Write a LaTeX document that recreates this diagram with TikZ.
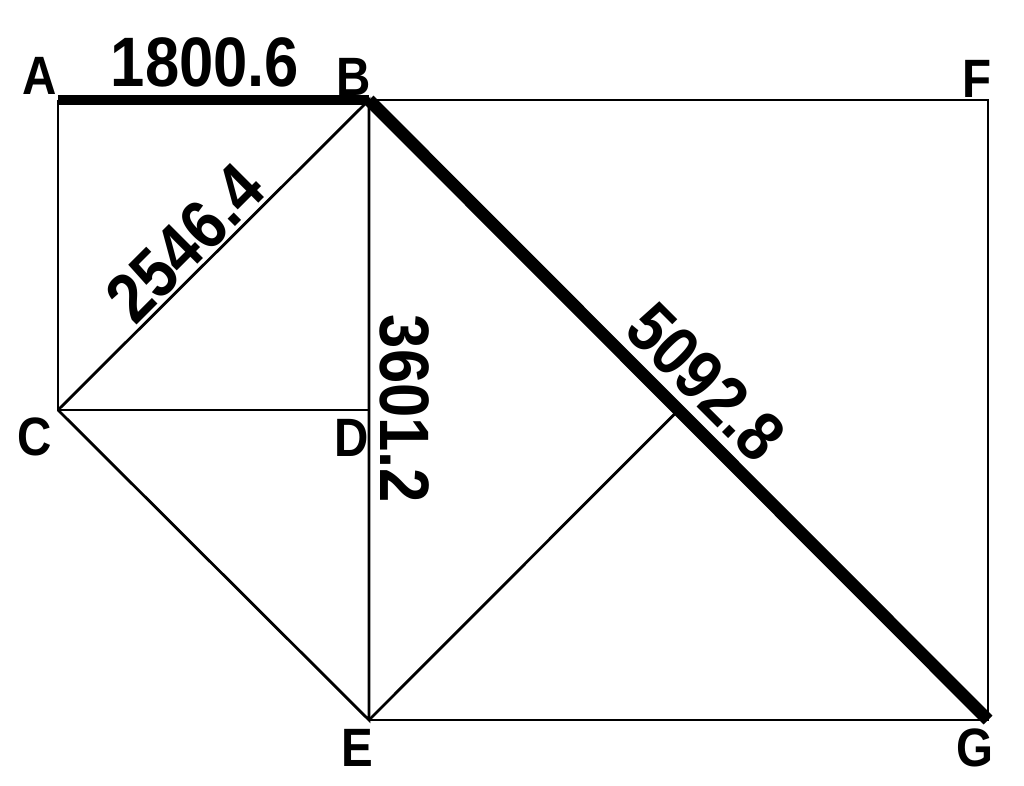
\documentclass[tikz,border=0pt]{standalone}
\usepackage{fontspec}
\usetikzlibrary{calc}
\newfontfamily\lblfont[FakeStretch=0.88]{Liberation Sans}
\begin{document}
\begin{tikzpicture}[x=1pt,y=-1pt,
  thin line/.style={line width=2.8pt},
  heavy/.style={line width=10pt},
  heavier/.style={line width=12.5pt},
  pt/.style={font=\lblfont\bfseries\fontsize{54}{54}\selectfont, inner sep=0pt},
  num/.style={font=\lblfont\bfseries\fontsize{70}{70}\selectfont, inner sep=0pt}]
\useasboundingbox (0,0) rectangle (1024,785);
\fill[white] (0,0) rectangle (1024,785);
\coordinate (A) at (58,100);
\coordinate (B) at (369,100);
\coordinate (F) at (988,100);
\coordinate (C) at (58,410);
\coordinate (D) at (369,410);
\coordinate (E) at (369,720);
\coordinate (G) at (988,720);
\coordinate (M) at ($(B)!0.5!(G)$);
% thin lines
\draw[thin line] (B) -- (F) -- (G) -- (E);
\draw[thin line] (A) -- (C) -- (D);
\draw[thin line] (C) -- (B) -- (E) -- (C);
\draw[thin line] (E) -- (M);
% thick lines
\draw[heavy] (A) -- (B);
\draw[heavier] (B) -- (G);
% point labels
\node[pt] (lA) at (40,76) {A};
\node[pt] (lB) at (354,77) {B};
\node[pt] (lF) at (977,79) {F};
\node[pt] (lC) at (35,437) {C};
\node[pt] (lD) at (352,438) {D};
\node[pt] (lE) at (357,748) {E};
\node[pt] (lG) at (975,748) {G};
% length labels
\node[num] (nAB) at (205,62) {1800.6};
\node[num, rotate=45] (nBC) at (185,243) {2546.4};
\node[num, rotate=-90] (nBE) at (405,409) {3601.2};
\node[num, rotate=-45] (nBG) at (706,382) {5092.8};
\end{tikzpicture}
\end{document}
